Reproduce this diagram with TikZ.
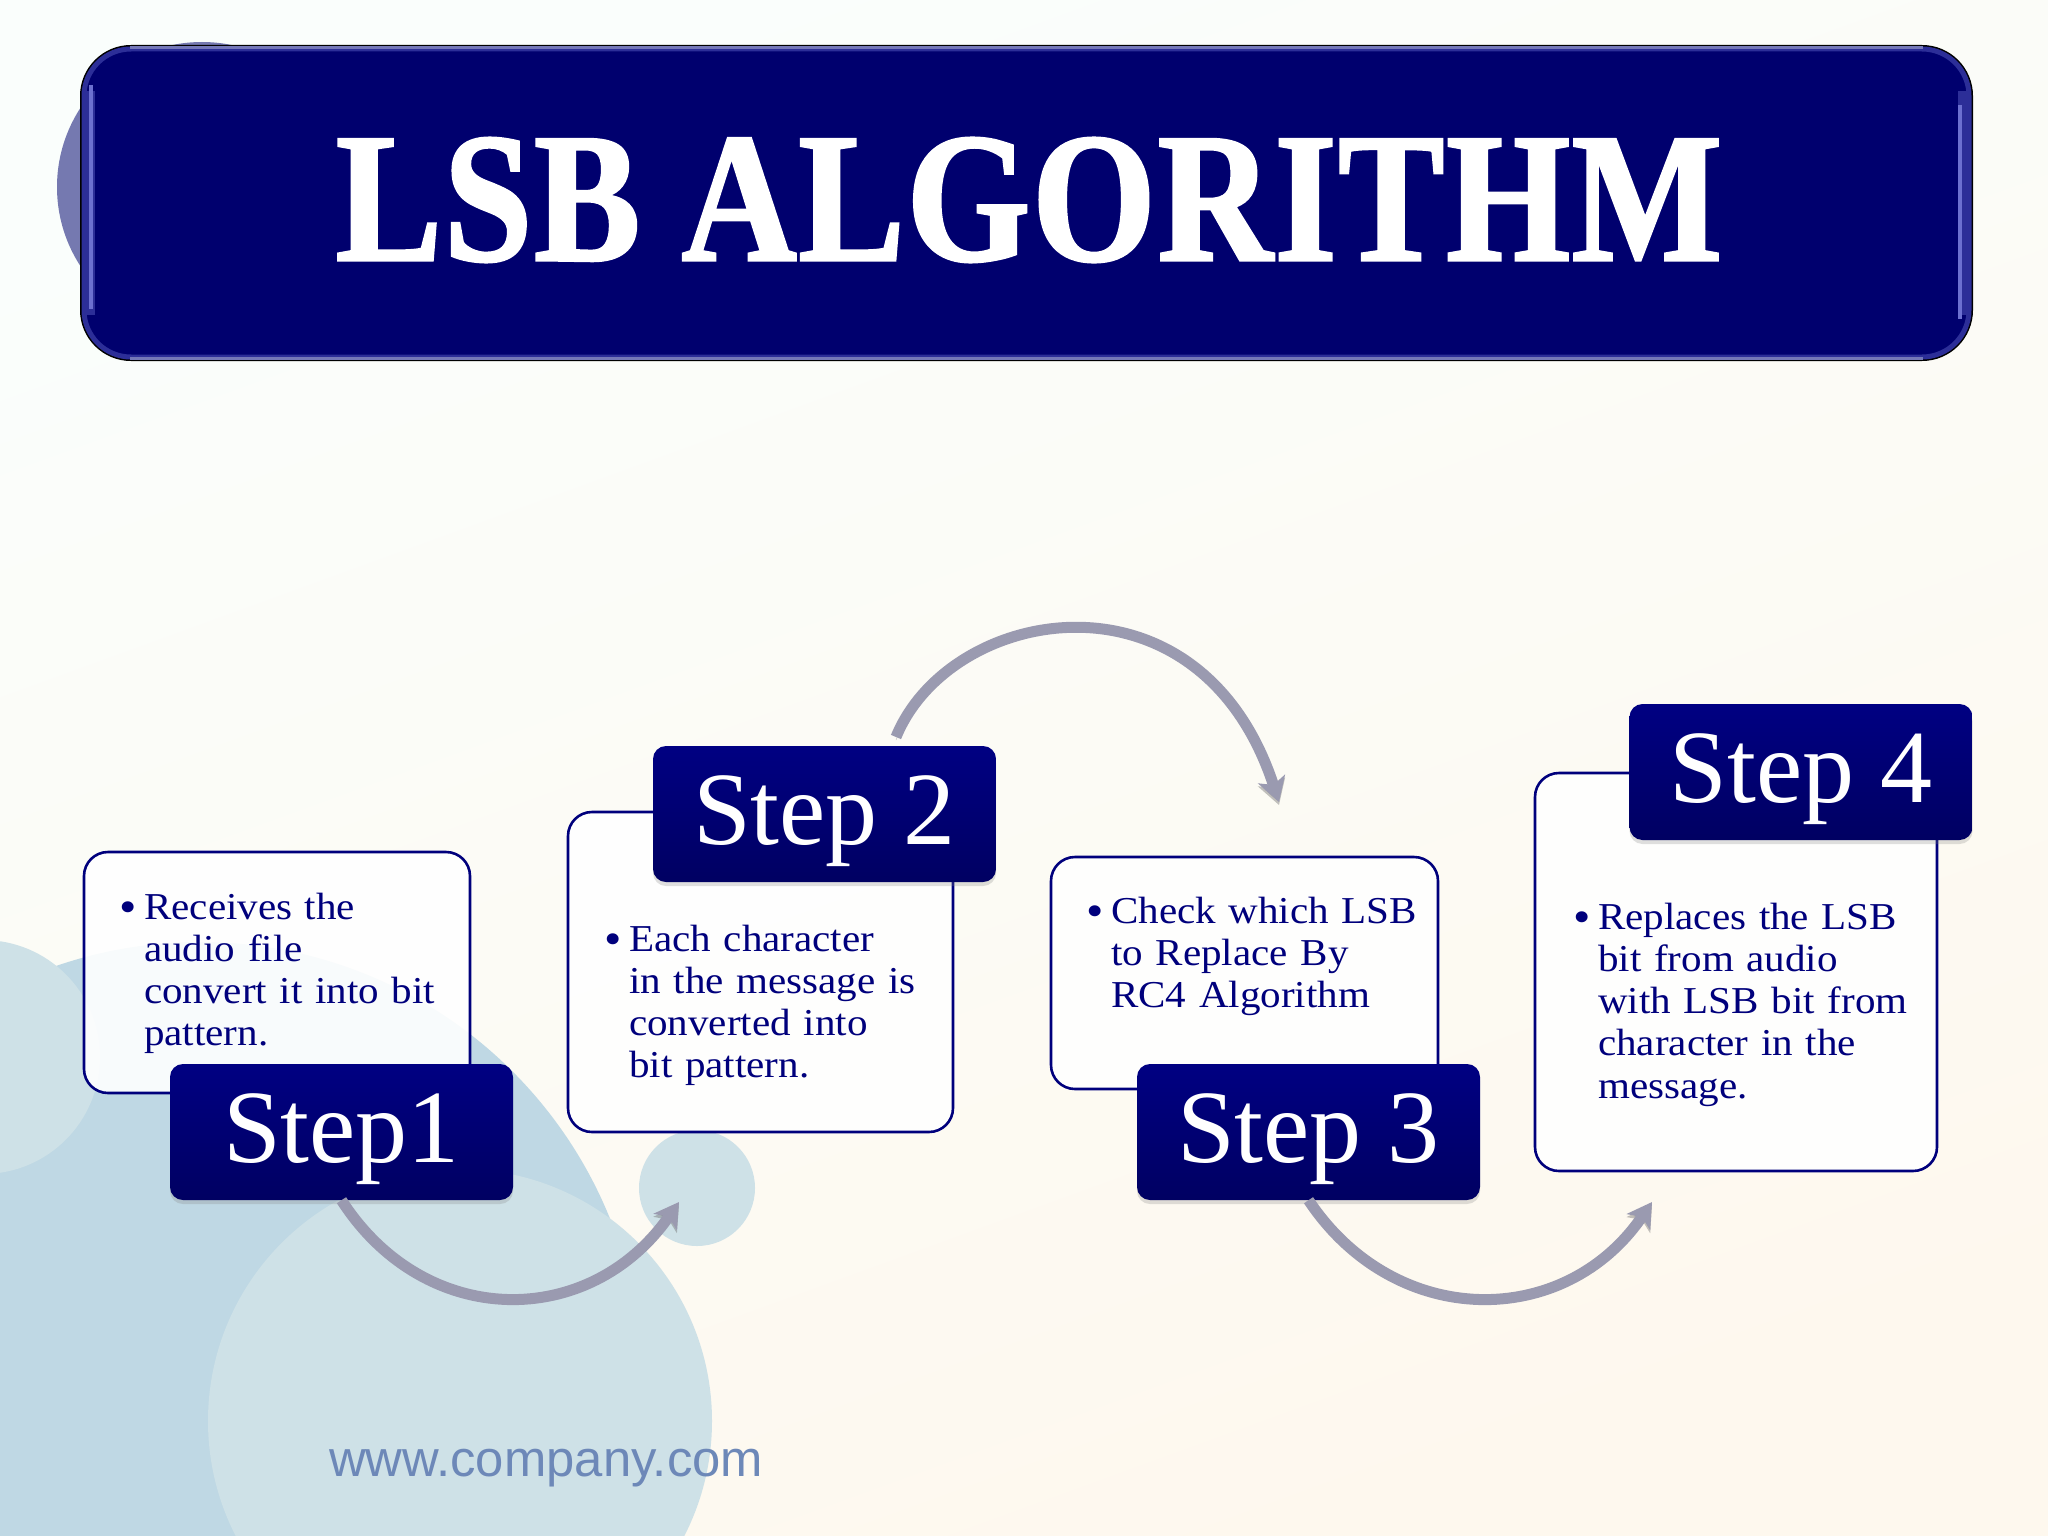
\documentclass[tikz,border=0pt]{standalone}
\usepackage{fontspec}
\usepackage{xcolor}
\usetikzlibrary{arrows.meta,shadows,calc}
\setmainfont{Liberation Serif}[FakeStretch=1.08,WordSpace=0.8]
\newfontfamily\titlefont{Liberation Serif Bold}[FakeStretch=0.86,FakeBold=1.5,LetterSpace=1]
\newfontfamily\stepfont{Liberation Serif}
\newfontfamily\webfont{Liberation Sans}
\definecolor{navyfill}{HTML}{00006E}
\definecolor{navytop}{HTML}{000082}
\definecolor{navybot}{HTML}{000062}
\definecolor{navytext}{HTML}{00007C}
\definecolor{rimblue}{HTML}{2C2E98}
\definecolor{rimlight}{HTML}{6C70D0}
\definecolor{rimpale}{HTML}{7478B8}
\definecolor{bubbledark}{HTML}{BFD8E4}
\definecolor{bubblelight}{HTML}{CEE1E7}
\definecolor{bubbletop}{HTML}{7579B0}
\definecolor{arrowgrey}{HTML}{9A9AB0}
\newcommand{\bitem}{\leavevmode\llap{\makebox[25pt][l]{\raisebox{-3pt}{\fontsize{46}{42}\selectfont\textbullet}}}}
\begin{document}
\begin{tikzpicture}
	[x=1pt,y=-1pt,
	cardbox/.style={draw=navytext,line width=2.6pt,fill=white,fill opacity=0.9,rounded corners=24pt,inner sep=0pt},
	cardtext/.style={anchor=base west,inner sep=0pt,text width=340pt,align=left,text=navytext,font=\fontsize{38}{42.3}\selectfont},
	stepbox/.style={rounded corners=13pt,top color=navytop,bottom color=navybot,minimum width=343pt,minimum height=136pt,inner sep=0pt,text=white,text height=80pt,text depth=20pt,font=\stepfont\fontsize{104}{110}\selectfont,drop shadow={shadow xshift=0pt,shadow yshift=-4pt,opacity=0.25}},
	rimwide/.style={draw=rimblue,line width=12pt},
	rimthin/.style={draw=rimlight,line width=4.5pt},
	rimflat/.style={draw=rimpale,line width=3pt},
	flowarrow/.style={draw=arrowgrey,line width=11pt,-{Stealth[length=24pt,width=28pt,inset=6pt]},preaction={draw=gray!80!black,opacity=0.4,transform canvas={yshift=-3pt}}}]
	\useasboundingbox (0,0) rectangle (2048,1536);
	\begin{scope}
		\clip (0,0) rectangle (2048,1536);
		\path[left color={rgb,255:red,250;green,254;blue,252},right color={rgb,255:red,254;green,248;blue,238},shading angle=20] (0,0) rectangle (2048,1536);
		\fill[bubbletop] (202,187) circle [radius=145pt];
		\fill[bubbledark] (200,1384) circle [radius=442pt];
		\fill[bubblelight] (-17,1057) circle [radius=117pt];
		\fill[bubblelight] (460,1421) circle [radius=252pt];
		\fill[bubblelight] (697,1188) circle [radius=58pt];
	\end{scope}
	\node[draw=black,line width=2pt,fill=navyfill,rounded corners=50pt,minimum width=1891pt,minimum height=314pt,inner sep=0pt] (titlebox) at (1026.5,203) {};
	\draw[draw=rimblue,line width=5pt,rounded corners=47pt] ($(titlebox.north west)+(4,4)$) rectangle ($(titlebox.south east)+(-4,-4)$);
	\draw[rimwide] ($(titlebox.north west)+(9,46)$) -- ($(titlebox.south west)+(9,-46)$);
	\draw[rimwide] ($(titlebox.north east)+(-9,46)$) -- ($(titlebox.south east)+(-9,-46)$);
	\draw[rimthin] ($(titlebox.north west)+(11,40)$) -- ($(titlebox.south west)+(11,-52)$);
	\draw[rimthin] ($(titlebox.north east)+(-13,60)$) -- ($(titlebox.south east)+(-13,-42)$);
	\draw[rimflat] ($(titlebox.north west)+(50,3)$) -- ($(titlebox.north east)+(-50,3)$);
	\draw[rimflat] ($(titlebox.south west)+(50,-3)$) -- ($(titlebox.south east)+(-50,-3)$);
	\node[inner sep=0pt,text=white,font=\titlefont\fontsize{185}{190}\selectfont] (titletext) at (1029,200) {LSB ALGORITHM};
	\node[cardbox,minimum width=386pt,minimum height=241pt] (cardone) at (277,972.5) {};
	\node[cardbox,minimum width=385pt,minimum height=320pt] (cardtwo) at (760.5,972) {};
	\node[cardbox,minimum width=387pt,minimum height=232pt] (cardthree) at (1244.5,973) {};
	\node[cardbox,minimum width=402pt,minimum height=398pt] (cardfour) at (1736,972) {};
	\node[cardtext] (textone) at (144,919) {\bitem Receives the\\audio file\\convert it into bit\\pattern.};
	\node[cardtext] (texttwo) at (629,951) {\bitem Each character\\in the message is\\converted into\\bit pattern.};
	\node[cardtext] (textthree) at (1111,923) {\bitem Check which LSB\\to Replace By\\RC4 Algorithm};
	\node[cardtext] (textfour) at (1598,929) {\bitem Replaces the LSB\\bit from audio\\with LSB bit from\\character in the\\message.};
	\node[stepbox] (stepone) at (341.5,1132) {Step1};
	\node[stepbox] (steptwo) at (824.5,814) {Step 2};
	\node[stepbox] (stepthree) at (1308.5,1132) {Step 3};
	\node[stepbox] (stepfour) at (1801,772) {Step 4};
	\coordinate (endone) at (679,1202);
	\coordinate (starttwo) at (896,737);
	\coordinate (endtwo) at (1279,802);
	\coordinate (endthree) at (1652,1202);
	\draw[flowarrow] (stepone.south) .. controls (425,1330) and (590,1330) .. (endone);
	\draw[flowarrow] (starttwo) .. controls (950,605) and (1200,560) .. (endtwo);
	\draw[flowarrow] (stepthree.south) .. controls (1395,1330) and (1565,1330) .. (endthree);
	\node[inner sep=0pt,anchor=base west,text={rgb,255:red,109;green,136;blue,184},font=\webfont\fontsize{50.8}{55}\selectfont] (weblabel) at (329,1476) {www.company.com};
\end{tikzpicture}
\end{document}
